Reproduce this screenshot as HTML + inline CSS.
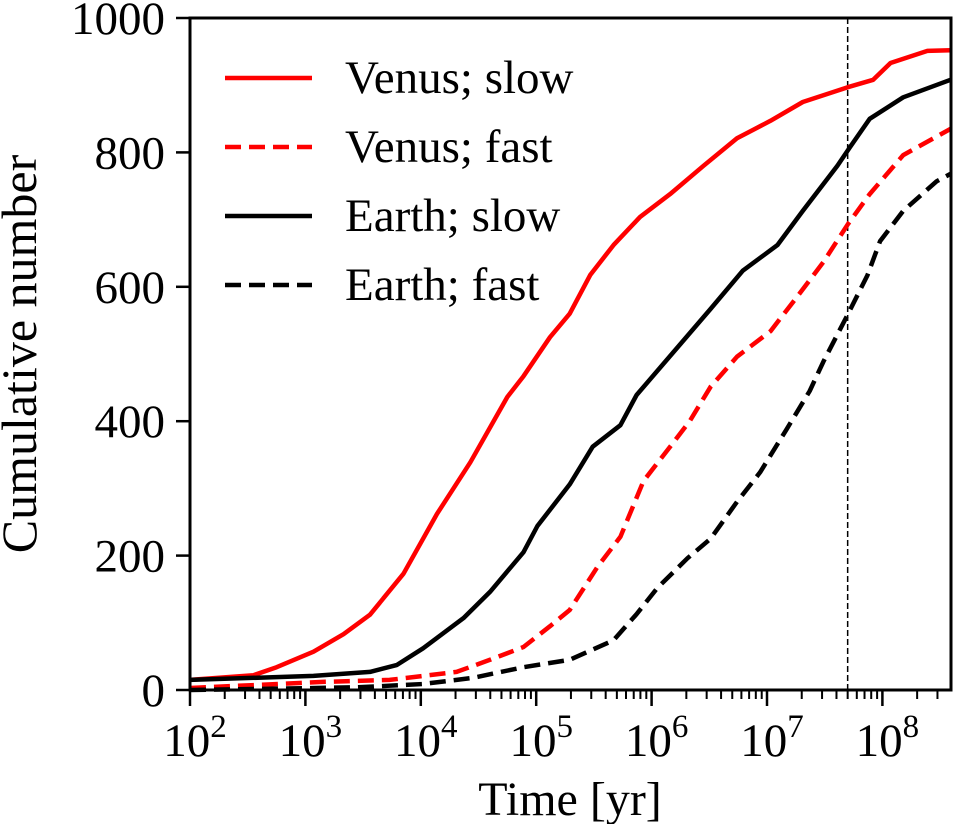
<!DOCTYPE html>
<html><head><meta charset="utf-8"><style>
body{margin:0;background:#fff}
svg text{font-family:"Liberation Serif",serif;fill:#000}
</style></head><body>
<svg width="955" height="824" viewBox="0 0 955 824" id="chart">
</svg>
<script>
const venusSlowX=[2.00,2.55,2.75,3.07,3.33,3.56,3.85,4.14,4.43,4.75,4.89,5.12,5.29,5.47,5.67,5.90,6.16,6.45,6.74,7.03,7.31,7.70,7.92,8.07,8.39,8.59];
const venusSlowY=[15,22,34,57,83,112,173,262,339,436,467,525,560,618,662,704,738,780,821,847,875,897,908,933,951,952];
const earthSlowX=[2.00,3.07,3.56,3.79,4.02,4.37,4.60,4.89,5.01,5.29,5.49,5.73,5.87,6.22,6.51,6.79,7.09,7.31,7.61,7.72,7.89,8.18,8.59];
const earthSlowY=[15,21,27,37,62,107,146,205,244,306,362,394,439,509,567,624,662,713,780,808,850,882,908];
const venusFastX=[2.00,3.15,3.73,4.31,4.60,4.89,5.12,5.29,5.53,5.73,5.93,6.16,6.33,6.51,6.74,7.03,7.26,7.49,7.70,7.89,8.18,8.59];
const venusFastY=[3,12,15,27,45,64,95,119,183,228,311,362,400,451,496,534,585,637,693,738,796,835];
const earthFastX=[2.00,3.45,4.02,4.45,4.89,5.29,5.67,5.87,6.05,6.31,6.51,6.74,6.94,7.17,7.37,7.49,7.70,7.87,7.98,8.18,8.47,8.59];
const earthFastY=[0,4,9,18,34,45,74,113,152,196,225,280,324,388,445,489,559,617,668,713,757,768];
const xTicks=[2,3,4,5,6,7,8];
const yTicks=[0,200,400,600,800,1000];
const vline=Math.log10(5e7);
const L=190,R=951,T=18,B=690,XMIN=2,XMAX=2+761/115.4;
const sx=v=>L+(v-XMIN)/(XMAX-XMIN)*(R-L);
const sy=v=>B-v/1000*(B-T);
const svg=document.getElementById('chart');
const NS='http://www.w3.org/2000/svg';
function mk(tag,attrs,parent){const e=document.createElementNS(NS,tag);for(const k in attrs)e.setAttribute(k,attrs[k]);(parent||svg).appendChild(e);return e;}
for(let d=2;d<9;d++){for(let m=2;m<10;m++){const v=d+Math.log10(m);if(v>XMAX)break;
const t=mk('line',{x1:sx(v),x2:sx(v),y1:B,y2:B+9,stroke:'#000','stroke-width':2});

}}
xTicks.forEach(v=>{
const t=mk('line',{x1:sx(v),x2:sx(v),y1:B,y2:B+16,stroke:'#000','stroke-width':2.5});


const tx=mk('text',{x:sx(v)+5,y:B+66,'font-size':47,'text-anchor':'middle'});


tx.innerHTML='10<tspan dy="-19" font-size="33">'+v+'</tspan>';
});
yTicks.forEach(v=>{
const t=mk('line',{x1:L-14,x2:L,y1:sy(v),y2:sy(v),stroke:'#000','stroke-width':2.5});


const tx=mk('text',{x:L-25,y:sy(v)+16,'font-size':47,'text-anchor':'end'});


tx.textContent=v;
});
const vl=mk('line',{x1:sx(vline),x2:sx(vline),y1:T,y2:B,stroke:'#000','stroke-width':1.5,'stroke-dasharray':'6,3'});


function series(xs,ys,col,dash,name){
const d=xs.map((x,i)=>(i?'L':'M')+sx(x).toFixed(1)+','+sy(ys[i]).toFixed(1)).join('');
const p=mk('path',{d:d,fill:'none',stroke:col,'stroke-width':4.5,'stroke-dasharray':dash?'16,8':'none','stroke-linejoin':'round'});


}
series(venusSlowX,venusSlowY,'#ff0000',false,'venus-slow-line');
series(venusFastX,venusFastY,'#ff0000',true,'venus-fast-line');
series(earthSlowX,earthSlowY,'#000',false,'earth-slow-line');
series(earthFastX,earthFastY,'#000',true,'earth-fast-line');
const fr=mk('rect',{x:L,y:T,width:R-L,height:B-T,fill:'none',stroke:'#000','stroke-width':3});


const leg=[['Venus; slow','#ff0000',false,78],['Venus; fast','#ff0000',true,147],['Earth; slow','#000',false,216],['Earth; fast','#000',true,285]];
leg.forEach(l=>{
const g=mk('g',{});


mk('line',{x1:225,x2:312,y1:l[3],y2:l[3],stroke:l[1],'stroke-width':4.5,'stroke-dasharray':l[2]?'16,8':'none'},g);
const t=mk('text',{x:345,y:l[3]+15,'font-size':47},g);
t.textContent=l[0];
});
const xl=mk('text',{x:570,y:815,'font-size':48,'text-anchor':'middle'});


xl.textContent='Time [yr]';
const yl=mk('text',{x:0,y:0,'font-size':50,'text-anchor':'middle',transform:'translate(36,354) rotate(-90)'});


yl.textContent='Cumulative number';
</script>
</body></html>
